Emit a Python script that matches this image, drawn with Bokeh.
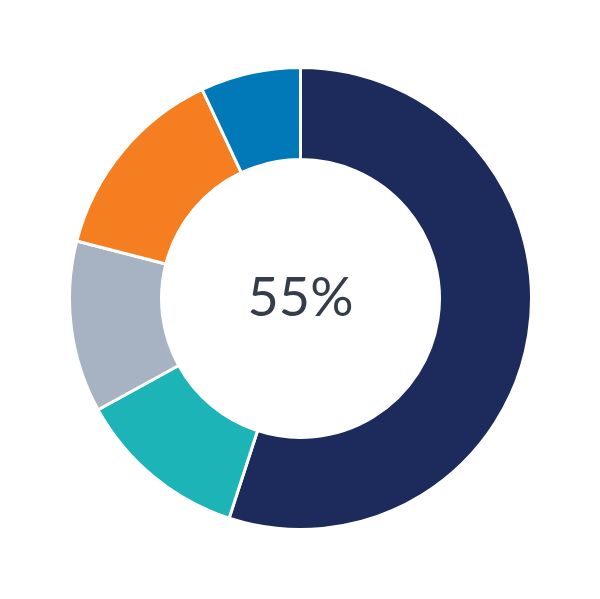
import math
from bokeh.plotting import figure
from bokeh.models import Range1d, ColumnDataSource
from bokeh.core.properties import value
from bokeh.embed import file_html
from bokeh.resources import INLINE

categories = ["A", "B", "C", "D", "E"]
shares = [55, 12, 12, 14, 7]
colors = ["#1c2b5b", "#1cb4b6", "#a7b3c2", "#f47e20", "#0178b7"]
center_label = "55%"

W, H = 584, 583
cx, cy = 300, H - 298
r_out, r_in = 231, 139

total = sum(shares)
starts, ends = [], []
cum = 0.0
for s in shares:
    starts.append(math.pi / 2 - cum / total * 2 * math.pi)
    cum += s
    ends.append(math.pi / 2 - cum / total * 2 * math.pi)

src = ColumnDataSource(dict(cat=categories, share=shares, color=colors,
                            start=starts, end=ends,
                            x=[cx] * len(shares), y=[cy] * len(shares)))

p = figure(width=W, height=H, output_backend="svg", toolbar_location=None,
           x_range=Range1d(0, W), y_range=Range1d(0, H), min_border=0)
p.axis.visible = False
p.grid.visible = False
p.outline_line_color = None
p.background_fill_color = "white"
p.border_fill_color = "white"

p.annular_wedge(x="x", y="y", inner_radius=r_in, outer_radius=r_out,
                start_angle="start", end_angle="end", direction="clock",
                fill_color="color", line_color="white", line_width=3, source=src)

p.text(x=[cx], y=[cy + 3], text=[center_label], text_align="center",
       text_baseline="middle", text_font=value("Lato"), text_font_size="54px",
       text_color="#343d48")

open("out.html", "w").write(file_html(p, INLINE))
